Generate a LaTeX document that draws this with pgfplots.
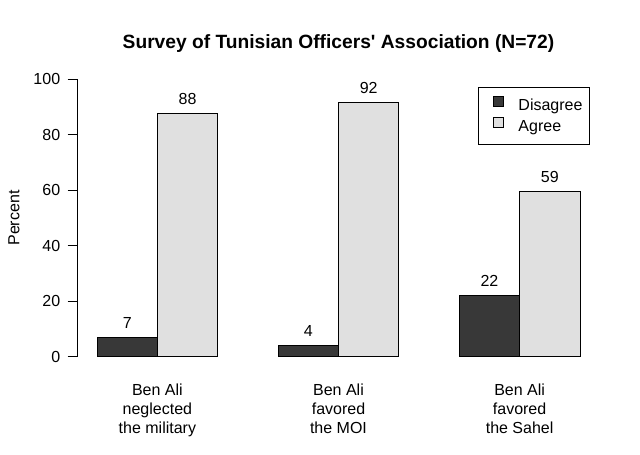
\documentclass[border=0pt]{standalone}
\usepackage{fontspec}
\setmainfont{Liberation Sans}[Ligatures=TeXOff]
\usepackage{pgfplots}
\pgfplotsset{compat=1.18}
\definecolor{darkbar}{HTML}{383838}
\definecolor{lightbar}{HTML}{E0E0E0}
\begin{document}
\fontsize{16pt}{19pt}\selectfont
\begin{tikzpicture}[x=1pt,y=1pt]
\path[use as bounding box] (0,0) rectangle (640,455);
\begin{axis}[
  at={(77.7pt,87pt)}, anchor=south west,
  scale only axis, width=521.6pt, height=300pt,
  xmin=0.68, xmax=9.32, ymin=-4, ymax=104,
  clip=false,
  axis line style={draw=none},
  /pgf/number format/assume math mode=true,
  ytick={0,20,...,100},
  ytick pos=left,
  xtick={2,5,8},
  xticklabels={{Ben Ali\\neglected\\the military},{Ben Ali\\favored\\the MOI},{Ben Ali\\favored\\the Sahel}},
  xticklabel style={align=center, font=\fontsize{16pt}{19pt}\selectfont},
  yticklabel style={font=\fontsize{16pt}{19pt}\selectfont, xshift=-2pt},
  x tick style={draw=none},
  y tick style={black, line width=0.8pt},
  tick align=outside, major tick length=10pt,
  ylabel={Percent},
  every axis y label/.style={at={(axis description cs:-0.122,0.5)}, rotate=90, anchor=center, font=\fontsize{16pt}{19pt}\selectfont},
  title={Survey of Tunisian Officers' Association (N=72)},
  every axis title/.style={at={(axis description cs:0.5,1.08)}, anchor=center, font=\fontsize{19.2pt}{22pt}\selectfont\bfseries},
  legend image code/.code={\path[draw=none, fill=none] (0pt,-0.5pt) rectangle (33pt,9.5pt); \draw[#1, line width=0.8pt] (10pt,-0.5pt) rectangle (20pt,9.5pt);},
  legend style={at={(axis description cs:0.982,0.937)}, anchor=north east,
    draw=black, line width=0.8pt, font=\fontsize{16pt}{19pt}\selectfont,
    inner xsep=5pt, inner ysep=9pt, row sep=2pt},
  legend cell align=left,
  nodes near coords style={font=\fontsize{16pt}{19pt}\selectfont, anchor=base, yshift=9pt},
]
\addplot[ybar, bar width=1, bar shift=0, fill=darkbar, draw=black, line width=0.8pt,
  nodes near coords, point meta=explicit symbolic] table[meta=lab] {
x y lab
1.5 6.94 7
4.5 4.17 4
7.5 22.22 22
};
\addplot[ybar, bar width=1, bar shift=0, fill=lightbar, draw=black, line width=0.8pt,
  nodes near coords, point meta=explicit symbolic] table[meta=lab] {
x y lab
2.5 87.5 88
5.5 91.67 92
8.5 59.4 59
};
\legend{Disagree, Agree}
\draw[line width=0.8pt] (axis cs:0.68,0) -- (axis cs:0.68,100);
\end{axis}
\end{tikzpicture}
\end{document}
